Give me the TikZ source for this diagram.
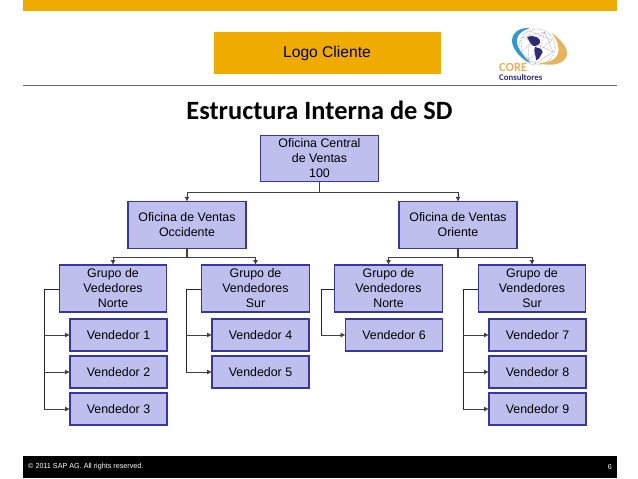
\documentclass[tikz,border=0pt]{standalone}
\usepackage{fontspec}
\setmainfont{Liberation Sans}
\newfontfamily\titlefont{Carlito}
\usepackage{tikz}
\usetikzlibrary{arrows.meta}
\definecolor{sapgold}{HTML}{EFAB00}
\definecolor{boxfill}{HTML}{BFBFEE}
\definecolor{boxline}{HTML}{3737A0}
\definecolor{rulegray}{HTML}{666666}
\definecolor{coreblue}{HTML}{2F9AD0}
\definecolor{coregold}{HTML}{E6B25A}
\definecolor{corenavy}{HTML}{2C2C78}
\tikzset{
  unitbox/.style={shape=rectangle, draw=boxline, fill=boxfill, line width=1.2pt, inner sep=0pt, outer sep=0pt, align=center, text depth=0pt, font=\fontsize{12.4}{15}\selectfont},
  officebox/.style={unitbox, minimum width=118pt, minimum height=46.5pt},
  groupbox/.style={unitbox, minimum width=107.5pt, minimum height=47pt},
  sellerbox/.style={unitbox, minimum width=97pt, minimum height=32pt},
  stem/.style={draw=black!75, line width=1.3pt},
  link/.style={draw=black!75, line width=0.9pt, -{Latex[length=5pt,width=5pt]}},
  bus/.style={draw=black!85, line width=0.9pt},
}

\begin{document}
\begin{tikzpicture}[x=1pt, y=-1pt]
\useasboundingbox (0,0) rectangle (638,479);

% page frame
\fill[sapgold] (23,0) rectangle (617,11);
\node[shape=rectangle, fill=sapgold, minimum width=227pt, minimum height=42pt, inner sep=0pt, font=\fontsize{15.6}{18}\selectfont](logobox) at (327,53) {Logo Cliente};
\draw[rulegray, line width=0.8pt] (23,85) -- (617,85);
\node[font=\titlefont\bfseries\fontsize{26.4}{30}\selectfont](title) at (319.5,110) {Estructura Interna de SD};
\fill[black] (23,456) rectangle (617,478);
\node[anchor=west, text=white, inner sep=0pt, font=\fontsize{7.2}{9}\selectfont](copyright) at (28,467) {\textcopyright{} 2011 SAP AG. All rights reserved.};
\node[anchor=east, text=white, inner sep=0pt, font=\fontsize{7.2}{9}\selectfont](pageno) at (612,467) {6};

% logo
\draw[gray!70, densely dotted, line width=0.7pt] (537,47) circle (18);
\draw[gray!60, line width=0.3pt] (522,37) -- (545,32) -- (553,52) -- (535,64) -- (521,52) -- cycle (522,37) -- (553,52) (545,32) -- (535,64) (521,52) -- (545,32) (530,31) -- (552,40) -- (528,60) -- cycle;
\fill[corenavy] (527,37) .. controls (533,34) and (542,38) .. (540,43) .. controls (537,46) and (534,48) .. (531,44) -- cycle;
\fill[corenavy] (535,47) .. controls (541,48) and (545,51) .. (541,55) .. controls (539,59) and (537,61) .. (536,60) .. controls (536,55) and (533,51) .. (535,47) -- cycle;
\fill[coreblue] (530,28) .. controls (516,27) and (508,37) .. (514,48) .. controls (517,54) and (523,60) .. (531,63) .. controls (522,55) and (516,47) .. (517,39) .. controls (518,33) and (524,30) .. (530,28) -- cycle;
\fill[coregold] (552,33) .. controls (563,41) and (573,54) .. (563,61) .. controls (558,65) and (548,66) .. (538,63) .. controls (548,63) and (556,60) .. (558,54) .. controls (560,47) and (557,40) .. (552,33) -- cycle;
\node[anchor=base west, inner sep=0pt, text=coregold, font=\titlefont\bfseries\fontsize{12.5}{13}\selectfont](corename) at (499,71.5) {CORE};
\node[anchor=base west, inner sep=0pt, text=corenavy, font=\titlefont\bfseries\fontsize{8.8}{10}\selectfont](coresub) at (499,80) {Consultores};

% offices
\node[officebox](central) at (319.5,158.5) {Oficina Central\\de Ventas\\100};
\node[officebox](occidente) at (187,225) {Oficina de Ventas\\Occidente};
\node[officebox](oriente) at (458,225) {Oficina de Ventas\\Oriente};

% groups
\node[groupbox](grupoA) at (113,288.5) {Grupo de\\Vededores\\Norte};
\node[groupbox](grupoB) at (255.5,288.5) {Grupo de\\Vendedores\\Sur};
\node[groupbox](grupoC) at (388.5,288.5) {Grupo de\\Vendedores\\Norte};
\node[groupbox](grupoD) at (532,288.5) {Grupo de\\Vendedores\\Sur};

% sellers
\node[sellerbox](v1) at (118.5,335) {Vendedor 1};
\node[sellerbox](v2) at (118.5,372) {Vendedor 2};
\node[sellerbox](v3) at (118.5,409) {Vendedor 3};
\node[sellerbox](v4) at (260.5,335) {Vendedor 4};
\node[sellerbox](v5) at (260.5,372) {Vendedor 5};
\node[sellerbox](v6) at (394,335) {Vendedor 6};
\node[sellerbox](v7) at (537.5,335) {Vendedor 7};
\node[sellerbox](v8) at (537.5,372) {Vendedor 8};
\node[sellerbox](v9) at (537.5,409) {Vendedor 9};

% junctions
\coordinate (topfork) at (319.5,192);
\coordinate (leftfork) at (187,257);
\coordinate (rightfork) at (458,257);
\coordinate (railA) at (44,289);
\coordinate (railB) at (186,289);
\coordinate (railC) at (321,289);
\coordinate (railD) at (463,289);

% office level
\path[stem] (central.south) -- (topfork);
\path[link] (topfork) -| (occidente.north);
\path[link] (topfork) -| (oriente.north);
\path[stem] (occidente.south) -- (leftfork);
\path[link] (leftfork) -| (grupoA.north);
\path[link] (leftfork) -| (grupoB.north);
\path[stem] (oriente.south) -- (rightfork);
\path[link] (rightfork) -| (grupoC.north);
\path[link] (rightfork) -| (grupoD.north);

% seller level
\path[bus] (grupoA.west |- railA) -- (railA) -- (railA |- v3);
\path[link] (railA |- v1) -- (v1.west);
\path[link] (railA |- v2) -- (v2.west);
\path[link] (railA |- v3) -- (v3.west);
\path[bus] (grupoB.west |- railB) -- (railB) -- (railB |- v5);
\path[link] (railB |- v4) -- (v4.west);
\path[link] (railB |- v5) -- (v5.west);
\path[bus] (grupoC.west |- railC) -- (railC) -- (railC |- v6);
\path[link] (railC |- v6) -- (v6.west);
\path[bus] (grupoD.west |- railD) -- (railD) -- (railD |- v9);
\path[link] (railD |- v7) -- (v7.west);
\path[link] (railD |- v8) -- (v8.west);
\path[link] (railD |- v9) -- (v9.west);
\end{tikzpicture}
\end{document}
